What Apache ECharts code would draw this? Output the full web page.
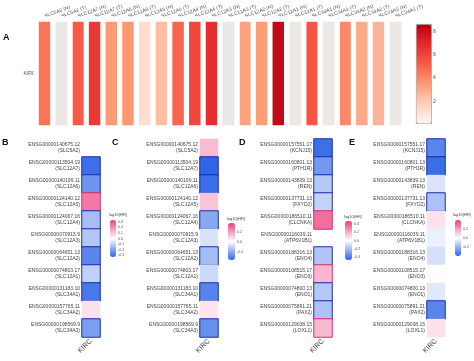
<!DOCTYPE html>
<html><head><meta charset="utf-8">
<script src="https://cdn.jsdelivr.net/npm/echarts@6/dist/echarts.min.js"></script>
<style>html,body{margin:0;padding:0;background:#fff}#c{width:474px;height:361px}</style>
</head><body><div id="c"></div>
<script>
// ---------- Panel A data ----------
const tcgaCats = ['SLC5A2 (N)','SLC5A2 (T)','SLC12A7 (N)','SLC12A7 (T)','SLC12A6 (N)','SLC12A6 (T)','SLC12A5 (N)','SLC12A5 (T)','SLC12A4 (N)','SLC12A4 (T)','SLC12A3 (N)','SLC12A3 (T)','SLC12A2 (N)','SLC12A2 (T)','SLC12A1 (N)','SLC12A1 (T)','SLC34A1 (N)','SLC34A1 (T)','SLC34A2 (N)','SLC34A2 (T)','SLC34A3 (N)','SLC34A3 (T)'];
const tcgaRows = ['KIRC'];
const tcgaVals = [4.6, null, 5.3, 6.5, 3.5, 3.6, 1.2, 2.4, 5.0, 6.0, 6.9, null, 3.3, 3.4, 8.2, null, 5.5, null, 4.0, 3.0, 2.7, null];
const tcgaRange = [0.1, 8.7];
const tcgaTicks = [2, 4, 6, 8];

// ---------- Panels B-E data ----------
const cancer = ['KIRC'];
const idsBC = ['ENSG00000140675.12','ENSG00000113504.19','ENSG00000140199.11','ENSG00000124140.12','ENSG00000124067.16','ENSG00000070915.9','ENSG00000064651.13','ENSG00000074803.17','ENSG00000131183.10','ENSG00000157765.11','ENSG00000198569.9'];
const symsBC = ['SLC5A2','SLC12A7','SLC12A6','SLC12A5','SLC12A4','SLC12A3','SLC12A2','SLC12A1','SLC34A1','SLC34A2','SLC34A3'];
const idsDE = ['ENSG00000157551.17','ENSG00000160801.13','ENSG00000143839.13','ENSG00000137731.13','ENSG00000186510.11','ENSG00000116039.11','ENSG00000188316.13','ENSG00000108515.17','ENSG00000074800.13','ENSG00000075891.21','ENSG00000129038.15'];
const symsDE = ['KCNJ15','PTH1R','REN','FXYD2','CLCNKA','ATP6V1B1','ENO4','ENO3','ENO1','PAX2','LOXL1'];

const valsB = [null, -0.31, -0.23, 0.23, -0.14, -0.12, -0.26, -0.10, -0.29, 0.05, -0.21];
const sigB  = [0, 1, 1, 1, 1, 1, 1, 1, 1, 0, 1];
const valsC = [0.13, -0.37, -0.35, 0.11, -0.21, -0.07, -0.16, -0.09, -0.30, 0.05, -0.27];
const sigC  = [0, 1, 1, 0, 1, 0, 1, 0, 1, 0, 1];
const valsD = [-0.45, -0.32, -0.17, -0.14, 0.36, null, -0.18, 0.18, -0.17, -0.19, 0.17];
const sigD  = [1, 1, 1, 1, 1, 0, 1, 1, 1, 1, 1];
const valsE = [-0.32, -0.38, -0.07, -0.16, 0.06, -0.04, -0.08, 0.005, -0.06, -0.32, 0.06];
const sigE  = [1, 1, 0, 1, 0, 0, 0, 0, 0, 1, 0];

const rangeB = 0.33, ticksB = [-0.3, -0.2, -0.1, 0, 0.1, 0.2, 0.3];
const rangeC = 0.37, ticksC = [-0.2, 0, 0.2];
const rangeD = 0.48, ticksD = [-0.4, -0.2, 0, 0.2, 0.4];
const rangeE = 0.40, ticksE = [-0.2, 0, 0.2];

// ---------- build ----------
const FONT = 'Liberation Sans, Arial, sans-serif';
const chart = echarts.init(document.getElementById('c'), null, {renderer: 'canvas'});

const panels = [
  {ids: idsBC, syms: symsBC, vals: valsB, sig: sigB, range: rangeB, ticks: ticksB, left: 82,  bar: {left: 110, top: 220, w: 6, h: 37}},
  {ids: idsBC, syms: symsBC, vals: valsC, sig: sigC, range: rangeC, ticks: ticksC, left: 200, bar: {left: 228, top: 223, w: 7, h: 37}},
  {ids: idsDE, syms: symsDE, vals: valsD, sig: sigD, range: rangeD, ticks: ticksD, left: 314, bar: {left: 345, top: 221, w: 7, h: 39}},
  {ids: idsDE, syms: symsDE, vals: valsE, sig: sigE, range: rangeE, ticks: ticksE, left: 427, bar: {left: 455, top: 220, w: 6, h: 36}}
];

const grid = [{left: 36.4, top: 19.4, width: 367.4, height: 108.2}];
const xAxis = [{
  type: 'category', data: tcgaCats, position: 'top', gridIndex: 0,
  axisLine: {show: false}, axisTick: {show: false},
  axisLabel: {rotate: -20, fontSize: 5, color: '#555', margin: 3, interval: 0, hideOverlap: false, fontFamily: FONT}
}];
const yAxis = [{
  type: 'category', data: tcgaRows, gridIndex: 0,
  axisLine: {show: false}, axisTick: {show: true, length: 2, lineStyle: {color: '#555'}},
  axisLabel: {fontSize: 5, color: '#555', margin: 1, fontFamily: FONT}
}];
const series = [];
const visualMap = [];

// A heatmap
series.push({
  type: 'heatmap', xAxisIndex: 0, yAxisIndex: 0,
  data: tcgaVals.map((v, i) => [i, 0, v]).filter(d => d[2] !== null),
  itemStyle: {borderColor: '#fff', borderWidth: 5.2}
});
series.push({
  type: 'heatmap', xAxisIndex: 0, yAxisIndex: 0,
  data: tcgaVals.map((v, i) => [i, 0, 0]).filter((d, i) => tcgaVals[i] === null),
  itemStyle: {color: '#ebe8e5', borderColor: '#fff', borderWidth: 5.2}
});
visualMap.push({
  type: 'continuous', seriesIndex: 0, min: tcgaRange[0], max: tcgaRange[1],
  inRange: {color: ['#fff6f2', '#fdd0bd', '#fc9a72', '#f75c48', '#e42a2e', '#b3000c']},
  left: 416, top: 24, itemWidth: 15, itemHeight: 99, padding: 0,
  borderColor: '#888', borderWidth: 0.8,
  calculable: false, hoverLink: false, text: null, showLabel: false
});

// B-E heatmaps
panels.forEach((p, k) => {
  const gi = grid.length;
  grid.push({left: p.left, top: 139, width: 18, height: 198});
  xAxis.push({
    type: 'category', data: cancer, gridIndex: gi, position: 'bottom',
    axisLine: {show: false}, axisTick: {show: false},
    axisLabel: {rotate: 45, fontSize: 7, color: '#333', margin: 3, fontFamily: FONT}
  });
  yAxis.push({
    type: 'category', data: p.ids.map((id, i) => id + '\n(' + p.syms[i] + ')'),
    gridIndex: gi, inverse: true,
    axisLine: {show: false}, axisTick: {show: false},
    axisLabel: {fontSize: 5, lineHeight: 6, color: '#444', margin: 2, align: 'right', interval: 0, fontFamily: FONT}
  });
  const si = series.length;
  series.push({
    type: 'heatmap', xAxisIndex: gi, yAxisIndex: gi,
    data: p.vals.map((v, i) => v === null ? null : {
      value: [0, i, v],
      itemStyle: p.sig[i] ? {borderColor: v < 0 ? '#1c2da6' : '#d8306a', borderWidth: 1} : {borderWidth: 0}
    }).filter(d => d !== null)
  });
  visualMap.push({
    type: 'continuous', seriesIndex: si, min: -p.range, max: p.range,
    inRange: {color: ['#2f66e8', '#ffffff', '#ee3d7e']},
    left: p.bar.left, top: p.bar.top, itemWidth: p.bar.w, itemHeight: p.bar.h, padding: 0,
    calculable: false, hoverLink: false, text: null, showLabel: false
  });
});

// colour-bar tick axes
const bars = [{left: 416, top: 24, w: 15, h: 99, min: tcgaRange[0], max: tcgaRange[1], ticks: tcgaTicks, fs: 5, fmt: v => String(v)}]
  .concat(panels.map(p => ({left: p.bar.left, top: p.bar.top, w: p.bar.w, h: p.bar.h, min: -p.range, max: p.range, ticks: p.ticks, fs: 3.6, fmt: v => v.toFixed(1)})));
bars.forEach(b => {
  const gi = grid.length;
  grid.push({left: b.left, top: b.top, width: b.w, height: b.h});
  xAxis.push({type: 'value', gridIndex: gi, show: false, min: 0, max: 1});
  yAxis.push({
    type: 'value', gridIndex: gi, position: 'right', min: b.min, max: b.max,
    axisLine: {show: false}, splitLine: {show: false},
    axisTick: {show: true, length: 1.5, customValues: b.ticks, lineStyle: {color: '#666', width: 0.5}},
    axisLabel: {customValues: b.ticks, fontSize: b.fs, color: '#555', margin: 2, formatter: b.fmt, fontFamily: FONT}
  });
});

const letter = (t, l, tp) => ({text: t, left: l, top: tp, padding: 0, textStyle: {fontSize: 9, fontWeight: 'bold', color: '#111', fontFamily: FONT}});
const legTitle = (l, tp) => ({text: 'log10(HR)', left: l, top: tp, padding: 0, textStyle: {fontSize: 4, fontWeight: 'normal', color: '#444', fontFamily: FONT}});
const title = [
  letter('A', 3, 33), letter('B', 2, 138), letter('C', 112, 138), letter('D', 239, 138), letter('E', 349, 138),
  legTitle(109, 213), legTitle(227, 217), legTitle(344, 215), legTitle(453, 213)
];

chart.setOption({
  backgroundColor: '#fff', animation: false,
  title, grid, xAxis, yAxis, series, visualMap
});
</script></body></html>
